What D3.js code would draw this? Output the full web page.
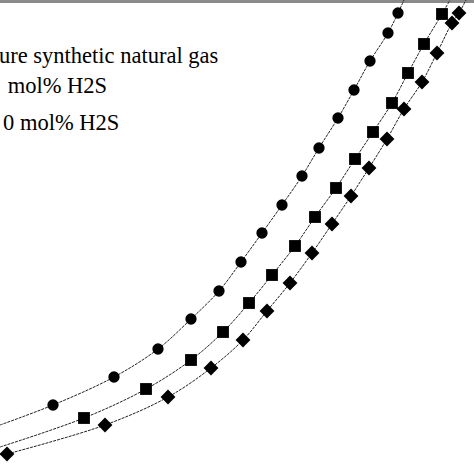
<!DOCTYPE html>
<html><head><meta charset="utf-8">
<script src="https://cdn.jsdelivr.net/npm/d3@7"></script>
<style>body{margin:0;background:#fff}</style>
</head><body>
<script>
const w = 474, h = 474;

// readings in plot units (x right, y up)
const circleX = [53,114,158,191,219,241,262,282,302,319,338,354,370,388,398];
const circleY = [69,97,125,155,183,212,241,269,298,326,356,384,413,441,461];
const squareX = [84,146,191,223,249,272,295,315,336,355,373,392,408,424,442];
const squareY = [56,85,114,142,171,199,228,257,286,315,342,371,401,430,460];
const diamondX = [7,105,168,211,243,267,290,312,332,351,369,387,404,422,437,452,459];
const diamondY = [20,49,77,106,134,163,191,221,250,278,306,335,365,392,421,451,461];
// fitted curve ends
const circleFit = {x0:0, y0:49, x1:404, y1:474};
const squareFit = {x0:0, y0:27, x1:450, y1:474};
const diamondFit = {x0:7, y0:20, x1:466, y1:474};

const legendLines = ['ure synthetic natural gas', ' mol% H2S', '0 mol% H2S'];

const x = d3.scaleLinear().domain([0,474]).range([0,w]);
const y = d3.scaleLinear().domain([0,474]).range([h,0]);

const svg = d3.select('body').append('svg').attr('width',w).attr('height',h);

svg.append('line').attr('x1',0).attr('x2',w).attr('y1',1.5).attr('y2',1.5)
   .attr('stroke','#8a8a8a').attr('stroke-width',3);

const line = d3.line().x(d=>x(d[0])).y(d=>y(d[1])).curve(d3.curveCatmullRom);

function series(xs, ys, fit, shape, size, rot){
  const pts = xs.map((v,i)=>[v,ys[i]]);
  const path = [[fit.x0,fit.y0]].concat(pts[0][0]===fit.x0 ? pts.slice(1) : pts, [[fit.x1,fit.y1]]);
  svg.append('path').attr('d',line(path)).attr('fill','none')
     .attr('stroke','#222').attr('stroke-width',1).attr('stroke-dasharray','3,1');
  svg.append('g').selectAll('path').data(pts).enter().append('path')
     .attr('d',d3.symbol().type(shape).size(size))
     .attr('transform',d=>'translate('+x(d[0])+','+y(d[1])+') rotate('+rot+')')
     .attr('fill','#000');
}
series(circleX, circleY, circleFit, d3.symbolCircle, 100, 0);
series(squareX, squareY, squareFit, d3.symbolSquare, 140, 0);
series(diamondX, diamondY, diamondFit, d3.symbolSquare, 110, 45);

svg.append('g').selectAll('text').data(legendLines).enter().append('text')
   .attr('x',(d,i)=>i===0?-1:(i===1?2:3)).attr('y',(d,i)=>[63,93,130][i])
   .attr('font-family','Liberation Serif, Times New Roman, serif')
   .attr('font-size',22.5).attr('fill','#000')
   .style('white-space','pre').text(d=>d);
</script>
</body></html>
